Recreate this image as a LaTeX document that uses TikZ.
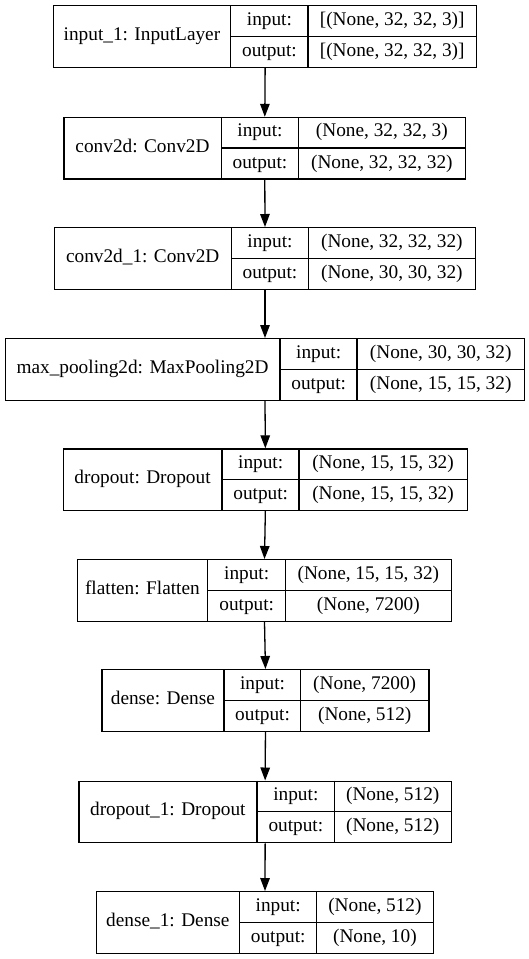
\documentclass[tikz,border=0pt]{standalone}
\usepackage{fontspec}
\setmainfont{Liberation Serif}
\usetikzlibrary{arrows.meta}
\tikzset{
  frame/.style={draw=black, line width=1.3pt, inner sep=0pt, anchor=north west},
  cell/.style={draw=none, inner sep=0pt, anchor=north west,
    text height=13pt, text depth=4pt, font=\fontsize{19.3}{22}\selectfont},
  rule/.style={line width=1.3pt, draw=black},
  arr/.style={line width=1.3pt, -{Triangle[length=13pt,width=9.5pt]}}
}
% #1 id, #2 top, #3 left, #4 div1, #5 div2, #6 right, #7 label, #8 input shape, #9 output shape
\newcommand{\kerasLayer}[9]{%
  \node[frame, minimum width={#6pt-#3pt}, minimum height=61.5pt] (#1) at (#3,-#2) {};
  \node[cell, minimum width={#4pt-#3pt}, minimum height=61.5pt] (#1-name) at (#3,-#2) {#7};
  \node[cell, minimum width={#5pt-#4pt}, minimum height=30.75pt] (#1-inl) at (#4,-#2) {input:};
  \node[cell, minimum width={#5pt-#4pt}, minimum height=30.75pt] (#1-outl) at (#1-inl.south west) {output:};
  \node[cell, minimum width={#6pt-#5pt}, minimum height=30.75pt] (#1-inv) at (#5,-#2) {#8};
  \node[cell, minimum width={#6pt-#5pt}, minimum height=30.75pt] (#1-outv) at (#1-inv.south west) {#9};
  \draw[rule] (#1-inl.north west) -- (#1-outl.south west);
  \draw[rule] (#1-inv.north west) -- (#1-outv.south west);
  \draw[rule] (#1-inl.south west) -- (#1-inv.south east);
}
\begin{document}
\begin{tikzpicture}[x=1pt,y=1pt]
\useasboundingbox (0,0) rectangle (529,-959);
\kerasLayer{L1}{5}{53}{230.5}{308}{476}{input\_1: InputLayer}{[(None, 32, 32, 3)]}{[(None, 32, 32, 3)]}
\kerasLayer{L2}{116.8}{63.3}{221.3}{298.3}{465}{conv2d: Conv2D}{(None, 32, 32, 3)}{(None, 32, 32, 32)}
\kerasLayer{L3}{227}{53.7}{231.3}{308.3}{475}{conv2d\_1: Conv2D}{(None, 32, 32, 32)}{(None, 30, 30, 32)}
\kerasLayer{L4}{338}{4.7}{280}{357}{524}{max\_pooling2d: MaxPooling2D}{(None, 30, 30, 32)}{(None, 15, 15, 32)}
\kerasLayer{L5}{448.3}{62.7}{222}{299}{466.7}{dropout: Dropout}{(None, 15, 15, 32)}{(None, 15, 15, 32)}
\kerasLayer{L6}{559}{76.7}{207.7}{285.3}{451}{flatten: Flatten}{(None, 15, 15, 32)}{(None, 7200)}
\kerasLayer{L7}{669}{101.3}{224}{300.7}{428.3}{dense: Dense}{(None, 7200)}{(None, 512)}
\kerasLayer{L8}{780.5}{78.3}{257}{334.3}{450.7}{dropout\_1: Dropout}{(None, 512)}{(None, 512)}
\kerasLayer{L9}{891}{96}{239.3}{316.7}{432.7}{dense\_1: Dense}{(None, 512)}{(None, 10)}
\draw[arr] (L1.south) -- (L2.north);
\draw[arr] (L2.south) -- (L3.north);
\draw[arr] (L3.south) -- (L4.north);
\draw[arr] (L4.south) -- (L5.north);
\draw[arr] (L5.south) -- (L6.north);
\draw[arr] (L6.south) -- (L7.north);
\draw[arr] (L7.south) -- (L8.north);
\draw[arr] (L8.south) -- (L9.north);
\end{tikzpicture}
\end{document}
